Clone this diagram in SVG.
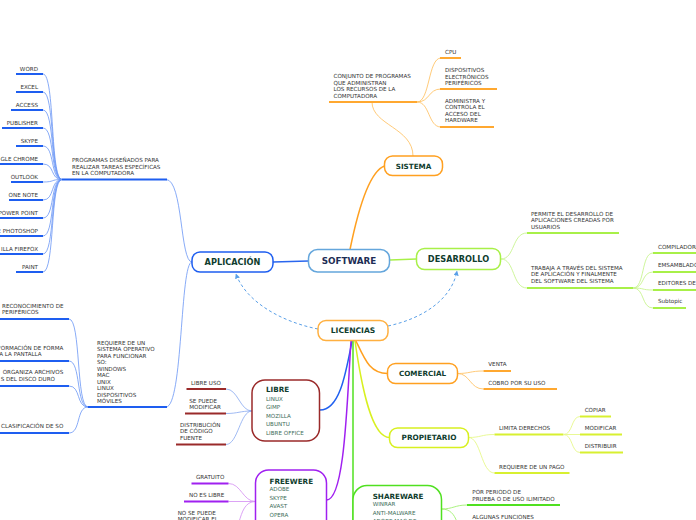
<svg xmlns="http://www.w3.org/2000/svg" width="696" height="520" viewBox="0 0 696 520">
<defs>
<marker id="ah" viewBox="0 0 10 10" refX="9" refY="5" markerWidth="5" markerHeight="5" orient="auto"><path d="M0,0 L10,5 L0,10 z" fill="#5aa0e8"/></marker>
<style>
text{font-family:"DejaVu Sans","Liberation Sans",sans-serif}
.t{font-size:5.6px;fill:#333}
.te{font-size:5.6px;fill:#333;text-anchor:end}
.nt{font-weight:bold;fill:#0f3d2e;text-anchor:middle}
.ntl{font-weight:bold;fill:#0f3d2e;font-size:7.2px}
.ns{font-size:5.6px;fill:#3d6d5a}
.box{fill:#fff;stroke-width:1.5}
.c{fill:none}
.bl{stroke:#6a95f5;stroke-width:0.8}
.blu{stroke:#1e5ef0;stroke-width:2}
.or{stroke:#ffc46a;stroke-width:0.9}
.oru{stroke:#ffa830;stroke-width:2}
.gr{stroke:#c8f490;stroke-width:0.9}
.gru{stroke:#a8f048;stroke-width:2}
.yl{stroke:#e6f88a;stroke-width:0.9}
.ylu{stroke:#d8f030;stroke-width:2}
.rd{stroke:#88a8f0;stroke-width:0.8}
.rdu{stroke:#9a2a2a;stroke-width:2}
.pu{stroke:#d898f4;stroke-width:0.9}
.puu{stroke:#a020f0;stroke-width:2}
.sg{stroke:#a0f070;stroke-width:0.9}
.sgu{stroke:#50e020;stroke-width:2}
.dash{fill:none;stroke:#5aa0e8;stroke-width:1;stroke-dasharray:3,2.5;marker-end:url(#ah)}
</style>
</defs>

<g id="connectors">
<!-- main -->
<path class="c" d="M273,262 L308.5,261" stroke="#2a66ee" stroke-width="1.5"/>
<path class="c" d="M390,260 L416.5,259" stroke="#a8f048" stroke-width="1.5"/>
<path class="c" d="M350,249.5 C356,220 368,172 384.5,166" stroke="#ffa020" stroke-width="1.5"/>
<path class="dash" d="M318,329 C282,322 246,302 236,274"/>
<path class="dash" d="M388,326 C425,318 452,298 457,271"/>
<!-- licencias -->
<path class="c" d="M352,341 C346,372 340,410 320,410" stroke="#2060f0" stroke-width="1.5"/>
<path class="c" d="M351,341 C347,400 345,500 326.5,500" stroke="#a020f0" stroke-width="1.5"/>
<path class="c" d="M353,341 L353,520" stroke="#50e020" stroke-width="1.5"/>
<path class="c" d="M355,341 C362,390 372,437.5 389.5,437.5" stroke="#d8f020" stroke-width="1.5"/>
<path class="c" d="M356,341 C365,360 370,373.5 387.5,373.5" stroke="#ffa020" stroke-width="1.5"/>
<!-- sistema -->
<path class="c or" d="M413,156 C413,128 372,125 372,102"/>
<path class="c oru" d="M329,102 L417,102"/>
<path class="c or" d="M417,102 C430,102 428,58 441,58"/>
<path class="c or" d="M417,102 C430,102 428,89 441,89"/>
<path class="c or" d="M417,102 C430,102 428,127 441,127"/>
<path class="c oru" d="M440,58 L461,58"/>
<path class="c oru" d="M440,89 L497,89"/>
<path class="c oru" d="M440,127 L494,127"/>
<!-- desarrollo -->
<path class="c gr" d="M501,259 C515,259 512,233 527,233"/>
<path class="c gr" d="M501,259 C515,259 512,288 527,288"/>
<path class="c gru" d="M527,233 L619,233"/>
<path class="c gru" d="M527,288 L633,288"/>
<path class="c gr" d="M633,288 C645,288 641,253 653,253"/>
<path class="c gr" d="M633,288 C645,288 641,272 653,272"/>
<path class="c gr" d="M633,288 C645,288 641,290 653,290"/>
<path class="c gr" d="M633,288 C645,288 641,308 653,308"/>
<path class="c gru" d="M653,253 L696,253"/>
<path class="c gru" d="M653,272 L696,272"/>
<path class="c gru" d="M653,290 L696,290"/>
<path class="c gru" d="M653,308 L686,308"/>
<!-- aplicacion -->
<path class="c bl" d="M192,262 C180,262 183,179.5 166,179.5"/>
<path class="c bl" d="M192,262 C180,262 183,407 166,407"/>
<path class="c blu" d="M62,179.5 L167,179.5"/>
<path class="c blu" d="M88,407 L167,407"/>
<path class="c bl" d="M62,179.5 C50,179.5 55,74 43,74"/>
<path class="c bl" d="M62,179.5 C50,179.5 55,92 43,92"/>
<path class="c bl" d="M62,179.5 C50,179.5 55,110 43,110"/>
<path class="c bl" d="M62,179.5 C50,179.5 55,128 43,128"/>
<path class="c bl" d="M62,179.5 C50,179.5 55,146 43,146"/>
<path class="c bl" d="M62,179.5 C50,179.5 55,164 43,164"/>
<path class="c bl" d="M62,179.5 C50,179.5 55,182 43,182"/>
<path class="c bl" d="M62,179.5 C50,179.5 55,200 43,200"/>
<path class="c bl" d="M62,179.5 C50,179.5 55,218 43,218"/>
<path class="c bl" d="M62,179.5 C50,179.5 55,236 43,236"/>
<path class="c bl" d="M62,179.5 C50,179.5 55,254 43,254"/>
<path class="c bl" d="M62,179.5 C50,179.5 55,272 43,272"/>
<path class="c blu" d="M16,74 L43,74"/>
<path class="c blu" d="M16,92 L43,92"/>
<path class="c blu" d="M11,110 L43,110"/>
<path class="c blu" d="M2,128 L43,128"/>
<path class="c blu" d="M16,146 L43,146"/>
<path class="c blu" d="M0,164 L43,164"/>
<path class="c blu" d="M11,182 L43,182"/>
<path class="c blu" d="M9,200 L43,200"/>
<path class="c blu" d="M0,218 L43,218"/>
<path class="c blu" d="M0,236 L43,236"/>
<path class="c blu" d="M0,254 L43,254"/>
<path class="c blu" d="M16,272 L43,272"/>
<path class="c bl" d="M88,407 C76,407 81,319 69,319"/>
<path class="c bl" d="M88,407 C76,407 81,361 69,361"/>
<path class="c bl" d="M88,407 C76,407 81,386 69,386"/>
<path class="c bl" d="M88,407 C76,407 81,433 69,433"/>
<path class="c blu" d="M0,319 L69,319"/>
<path class="c blu" d="M0,361 L69,361"/>
<path class="c blu" d="M0,386 L69,386"/>
<path class="c blu" d="M0,433 L69,433"/>
<!-- libre -->
<path class="c rd" d="M252,411 C240,411 238,389 226,389"/>
<path class="c rd" d="M252,411 C240,411 238,413.5 226,413.5"/>
<path class="c rd" d="M252,411 C240,411 238,444.5 226,444.5"/>
<path class="c rdu" d="M186.5,389 L226,389"/>
<path class="c rdu" d="M185,413.5 L226,413.5"/>
<path class="c rdu" d="M176,444.5 L226,444.5"/>
<!-- freewere -->
<path class="c pu" d="M255.5,501.5 C243,501.5 241,483.5 228.5,483.5"/>
<path class="c pu" d="M255.5,501.5 L228.5,501.5"/>
<path class="c pu" d="M255.5,501.5 C245,501.5 242,512 239,522"/>
<path class="c puu" d="M191.5,483.5 L228.5,483.5"/>
<path class="c puu" d="M184,501.5 L228.5,501.5"/>
<!-- comercial -->
<path class="c or" d="M457.5,373.5 C470,373.5 470,371 483.5,371"/>
<path class="c or" d="M457.5,373.5 C470,373.5 470,389 483.5,389"/>
<path class="c oru" d="M483.5,371 L511,371"/>
<path class="c oru" d="M483.5,389 L557,389"/>
<!-- propietario -->
<path class="c yl" d="M468.5,437.5 C481,437.5 481,434.5 494.5,434.5"/>
<path class="c yl" d="M468.5,437.5 C481,437.5 481,473 494.5,473"/>
<path class="c ylu" d="M494.5,434.5 L563.5,434.5"/>
<path class="c ylu" d="M494.5,473 L569.5,473"/>
<path class="c yl" d="M563.5,434.5 C573,434.5 571,416.5 580,416.5"/>
<path class="c yl" d="M563.5,434.5 L580,434.5"/>
<path class="c yl" d="M563.5,434.5 C573,434.5 571,452.5 580,452.5"/>
<path class="c ylu" d="M580,416.5 L611,416.5"/>
<path class="c ylu" d="M580,434.5 L622,434.5"/>
<path class="c ylu" d="M580,452.5 L623,452.5"/>
<!-- shareware -->
<path class="c sg" d="M441.5,509 C453,509 455,505 467,505"/>
<path class="c sg" d="M441.5,509 C450,509 454,514 457,522"/>
<path class="c sgu" d="M467,505 L560,505"/>
</g>

<g id="software"><rect class="box" x="308.5" y="249.5" width="81" height="22.5" rx="9" stroke="#64a6dc"/><text class="nt" x="349" y="264.3" font-size="8.8" style="fill:#1e2d55">SOFTWARE</text></g>
<g id="aplicacion"><rect class="box" x="192" y="252" width="81" height="20" rx="8" stroke="#1e5ef0"/><text class="nt" x="232.5" y="265" font-size="8.2">APLICACIÓN</text></g>
<g id="desarrollo"><rect class="box" x="416.5" y="248.5" width="84" height="21" rx="8" stroke="#a8f048"/><text class="nt" x="458.5" y="262" font-size="8.2">DESARROLLO</text></g>
<g id="sistema"><rect class="box" x="384.5" y="156" width="58" height="19.5" rx="8" stroke="#ffa020"/><text class="nt" x="413.5" y="168.5" font-size="7.2">SISTEMA</text></g>
<g id="licencias"><rect class="box" x="318" y="320.5" width="70" height="20" rx="8" stroke="#ffb040"/><text class="nt" x="353" y="333.3" font-size="7.6">LICENCIAS</text></g>
<g id="comercial"><rect class="box" x="387.5" y="363.5" width="70" height="20" rx="8" stroke="#ffa020"/><text class="nt" x="422.5" y="376.2" font-size="7.2">COMERCIAL</text></g>
<g id="propietario"><rect class="box" x="389.5" y="428" width="79" height="19.5" rx="8" stroke="#d8f020"/><text class="nt" x="429" y="440.4" font-size="7.3">PROPIETARIO</text></g>
<g id="libre"><rect class="box" x="252" y="380" width="67.5" height="61" rx="13" stroke="#9a2a2a"/><text class="ntl" x="266" y="392">LIBRE</text><text class="ns" x="266" y="401">LINUX</text><text class="ns" x="266" y="409">GIMP</text><text class="ns" x="266" y="417.5">MOZILLA</text><text class="ns" x="266" y="425.5">UBUNTU</text><text class="ns" x="266" y="434.5">LIBRE OFFICE</text></g>
<g id="freewere"><rect class="box" x="255.5" y="470" width="71" height="70" rx="13" stroke="#a020f0"/><text class="ntl" x="269.5" y="483.5">FREEWERE</text><text class="ns" x="269.5" y="491">ADOBE</text><text class="ns" x="269.5" y="499.5">SKYPE</text><text class="ns" x="269.5" y="508">AVAST</text><text class="ns" x="269.5" y="516.5">OPERA</text></g>
<g id="shareware"><rect class="box" x="353" y="485.5" width="88.5" height="60" rx="14" stroke="#50e020"/><text class="ntl" x="372.7" y="498.5">SHAREWARE</text><text class="ns" x="372.7" y="506">WINRAR</text><text class="ns" x="372.7" y="515">ANTI-MALWARE</text><text class="ns" x="372.7" y="523">ADOBE MAC DE</text></g>

<g id="sistema-texts">
<text class="t" x="333.5" y="78">CONJUNTO DE PROGRAMAS</text>
<text class="t" x="333.5" y="84.7">QUE ADMINISTRAN</text>
<text class="t" x="333.5" y="91.4">LOS RECURSOS DE LA</text>
<text class="t" x="333.5" y="98">COMPUTADORA</text>
<text class="t" x="445" y="54">CPU</text>
<text class="t" x="445" y="72">DISPOSITIVOS</text>
<text class="t" x="445" y="78.5">ELECTRÓNICOS</text>
<text class="t" x="445" y="85">PERIFÉRICOS</text>
<text class="t" x="445" y="103">ADMINISTRA Y</text>
<text class="t" x="445" y="109.3">CONTROLA EL</text>
<text class="t" x="445" y="115.7">ACCESO DEL</text>
<text class="t" x="445" y="122">HARDWARE</text>
</g>
<g id="desarrollo-texts">
<text class="t" x="531" y="216">PERMITE EL DESARROLLO DE</text>
<text class="t" x="531" y="222.4">APLICACIONES CREADAS POR</text>
<text class="t" x="531" y="229">USUARIOS</text>
<text class="t" x="531" y="270">TRABAJA A TRAVÉS DEL SISTEMA</text>
<text class="t" x="531" y="276.3">DE APLICACIÓN Y FINALMENTE</text>
<text class="t" x="531" y="282.6">DEL SOFTWARE DEL SISTEMA</text>
<text class="t" x="658" y="249">COMPILADORAS</text>
<text class="t" x="658" y="267">EMSAMBLADORES</text>
<text class="t" x="658" y="285">EDITORES DE TEXTO</text>
<text class="t" x="658" y="303">Subtopic</text>
</g>
<g id="aplicacion-texts">
<text class="t" x="72" y="162">PROGRAMAS DISEÑADOS PARA</text>
<text class="t" x="72" y="168.5">REALIZAR TAREAS ESPECÍFICAS</text>
<text class="t" x="72" y="175">EN LA COMPUTADORA</text>
<text class="te" x="38" y="70.5">WORD</text>
<text class="te" x="38" y="88.5">EXCEL</text>
<text class="te" x="38" y="106.5">ACCESS</text>
<text class="te" x="38" y="124.5">PUBLISHER</text>
<text class="te" x="38" y="142.5">SKYPE</text>
<text class="te" x="38" y="160.5">GLE CHROME</text>
<text class="te" x="38" y="178.5">OUTLOOK</text>
<text class="te" x="38" y="196.5">ONE NOTE</text>
<text class="te" x="38" y="214.5">POWER POINT</text>
<text class="te" x="38" y="232.5">E PHOTOSHOP</text>
<text class="te" x="38" y="250.5">ILLA FIREFOX</text>
<text class="te" x="38" y="268.5">PAINT</text>
<text class="t" x="97" y="344.7">REQUIERE DE UN</text>
<text class="t" x="97" y="351">SISTEMA OPERATIVO</text>
<text class="t" x="97" y="357.6">PARA FUNCIONAR</text>
<text class="t" x="97" y="364">SO:</text>
<text class="t" x="97" y="370.6">WINDOWS</text>
<text class="t" x="97" y="377">MAC</text>
<text class="t" x="97" y="383.6">UNIX</text>
<text class="t" x="97" y="390">LINUX</text>
<text class="t" x="97" y="396.6">DISPOSITIVOS</text>
<text class="t" x="97" y="403">MÓVILES</text>
<text class="t" x="2" y="307.7">RECONOCIMIENTO DE</text>
<text class="t" x="2" y="314">PERIFÉRICOS</text>
<text class="te" x="63.3" y="350">FORMACIÓN DE FORMA</text>
<text class="te" x="41.7" y="356.3">A LA PANTALLA</text>
<text class="te" x="63.3" y="374">ORGANIZA ARCHIVOS</text>
<text class="te" x="55" y="381">S DEL DISCO DURO</text>
<text class="te" x="63.3" y="428">CLASIFICACIÓN DE SO</text>
</g>
<g id="licencias-texts">
<text class="t" x="191" y="385">LIBRE USO</text>
<text class="t" x="189.3" y="403">SE PUEDE</text>
<text class="t" x="189.3" y="409.3">MODIFICAR</text>
<text class="t" x="180" y="426.5">DISTRIBUCIÓN</text>
<text class="t" x="180" y="433">DE CÓDIGO</text>
<text class="t" x="180" y="439.5">FUENTE</text>
<text class="t" x="196" y="479">GRATUITO</text>
<text class="t" x="189" y="497">NO ES LIBRE</text>
<text class="t" x="177.7" y="514.5">NO SE PUEDE</text>
<text class="t" x="177.7" y="520.8">MODIFICAR EL</text>
<text class="t" x="488.3" y="366.3">VENTA</text>
<text class="t" x="488.3" y="384.5">COBRO POR SU USO</text>
<text class="t" x="499" y="430">LIMITA DERECHOS</text>
<text class="t" x="499" y="469">REQUIERE DE UN PAGO</text>
<text class="t" x="584.7" y="412">COPIAR</text>
<text class="t" x="584.7" y="430">MODIFICAR</text>
<text class="t" x="584.7" y="448">DISTRIBUIR</text>
<text class="t" x="472.3" y="493.5">POR PERIODO DE</text>
<text class="t" x="472.3" y="501">PRUEBA O DE USO ILIMITADO</text>
<text class="t" x="472.3" y="519">ALGUNAS FUNCIONES</text>
</g>
</svg>
